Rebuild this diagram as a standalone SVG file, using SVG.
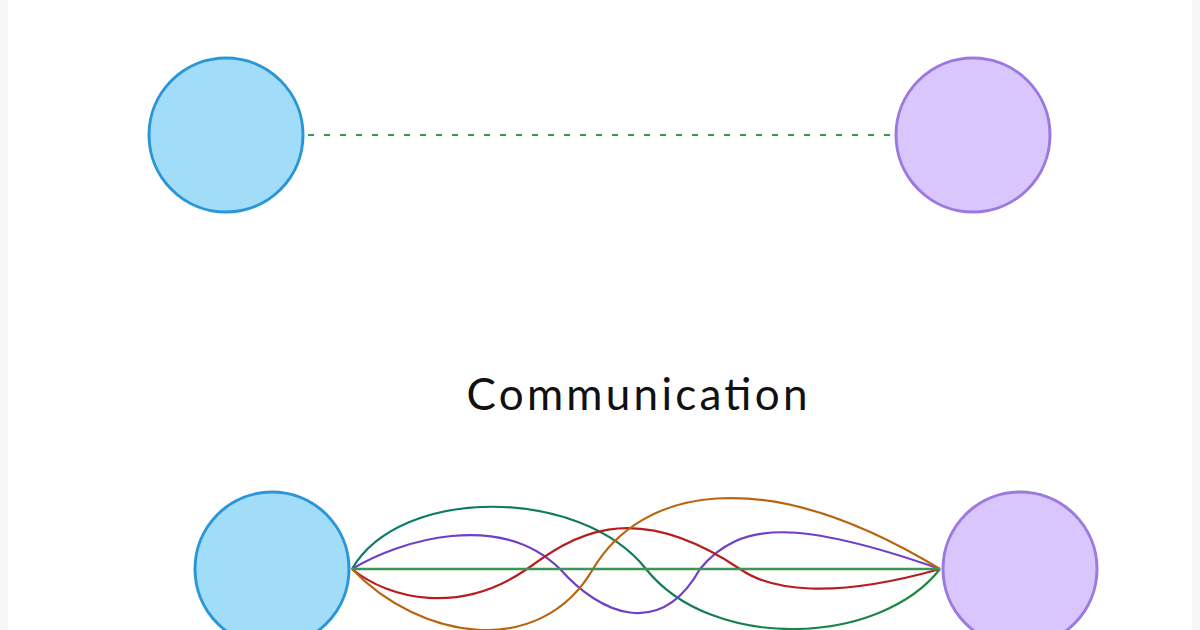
<svg xmlns="http://www.w3.org/2000/svg" width="1200" height="630" viewBox="0 0 1200 630">
<style>
.a{fill:#a1dcf9;stroke:#2a96d8;stroke-width:3}
.b{fill:#d8c6fd;stroke:#9b79e0;stroke-width:3}
.c{fill:none;stroke-width:2.2}
</style>
<defs><linearGradient id="g" x1="352" y1="0" x2="940" y2="0" gradientUnits="userSpaceOnUse"><stop offset="0" stop-color="#0f7a70"/><stop offset="0.5" stop-color="#127a55"/><stop offset="1" stop-color="#1f8a40"/></linearGradient></defs>
<rect width="1200" height="630" fill="#f7f7f7"/>
<rect x="8" width="1184" height="630" fill="#fff"/>
<g id="connectors">
<line x1="308" y1="135" x2="890" y2="135" stroke="#3a9a50" stroke-width="2" stroke-dasharray="6 10"/>
<path class="c" stroke="url(#g)" d="M352,569 C400,486 580,486 646,569 C712,652 880,646 940,569"/>
<path class="c" stroke="#6f3fc8" d="M352,569 C400,540 500,510 560,569 C600,614 660,640 700,569 C740,520 800,520 940,569"/>
<path class="c" stroke="#b81c1c" d="M352,569 C390,600 460,615 527,569 C570,538 630,495 740,569 C770,590 830,600 940,569"/>
<path class="c" stroke="#b8650f" d="M352,569 C420,640 540,660 593,569 C640,490 760,460 940,569"/>
<line x1="352" y1="569" x2="940" y2="569" stroke="#3d9455" stroke-width="2.5"/>
</g>
<g id="n1"><circle class="a" cx="226" cy="135" r="77"/></g>
<g id="n2"><circle class="b" cx="973" cy="135" r="77"/></g>
<g id="label"><text x="637" y="410" text-anchor="middle" font-family="Lato, 'Open Sans', sans-serif" font-size="44" textLength="341" fill="#111">Communication</text></g>
<g id="n3"><circle class="a" cx="272" cy="569" r="77"/></g>
<g id="n4"><circle class="b" cx="1020" cy="569" r="77"/></g>
</svg>
